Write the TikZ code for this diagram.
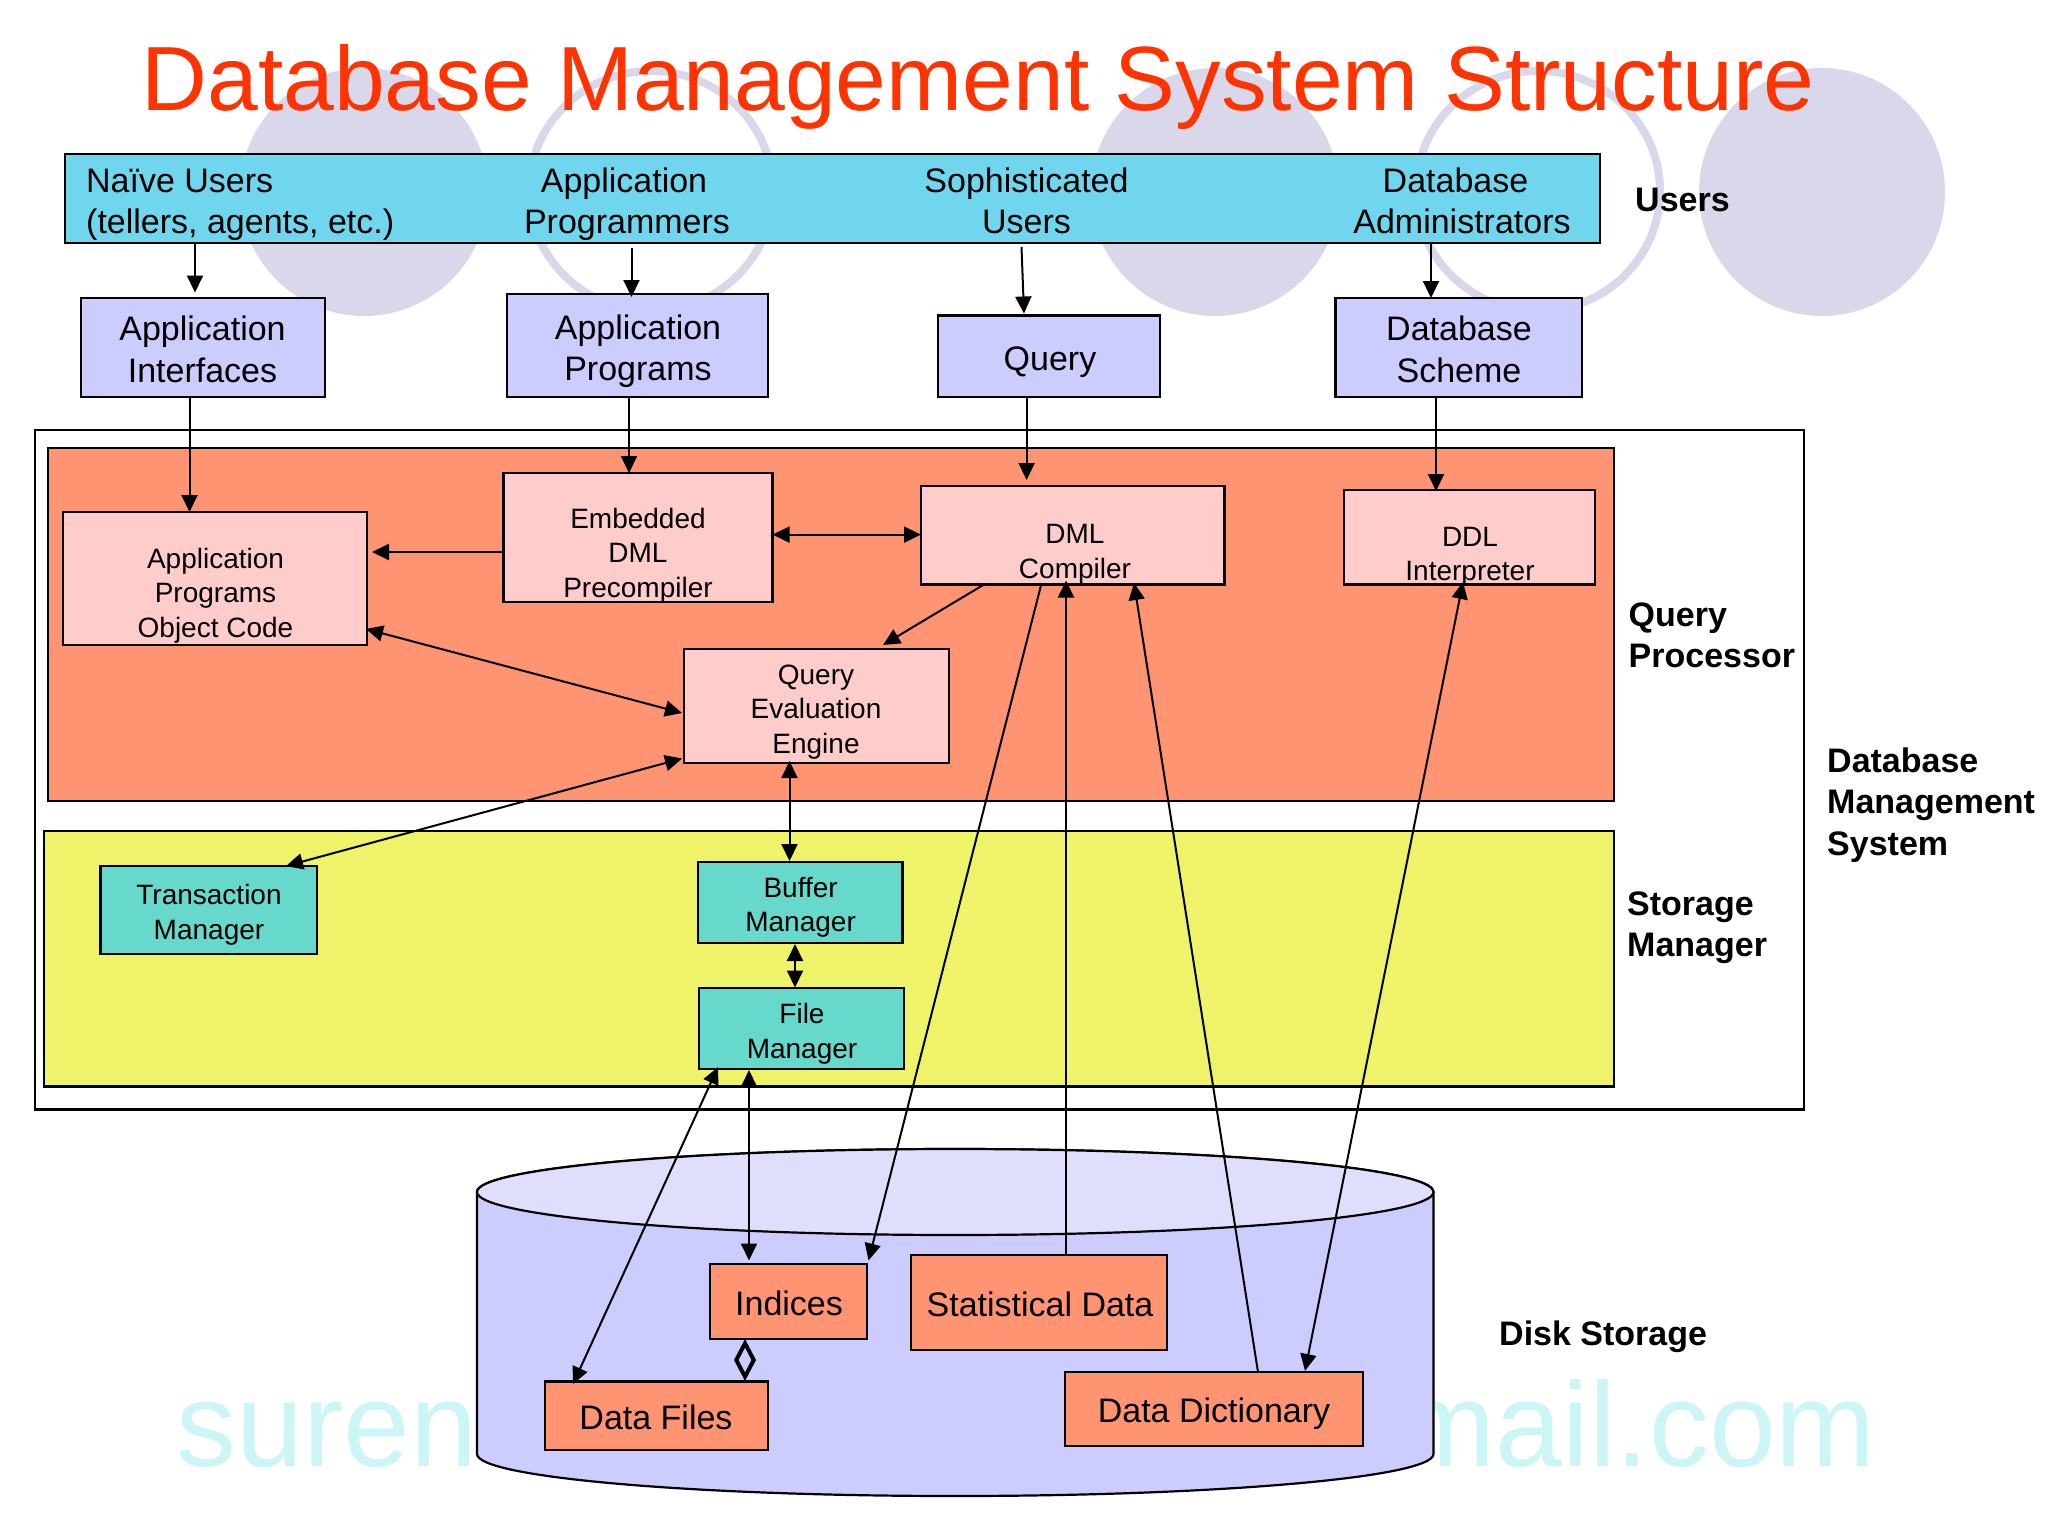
\documentclass[tikz,border=0pt]{standalone}
\usepackage{fontspec}
\setmainfont{Liberation Sans}
\usetikzlibrary{arrows.meta}
\definecolor{titlered}{HTML}{FF3300}
\definecolor{ringc}{HTML}{D9D8EA}
\definecolor{barc}{HTML}{70D6EE}
\definecolor{lav}{HTML}{CCCCFF}
\definecolor{lavtop}{HTML}{DFDFFD}
\definecolor{qpc}{HTML}{FF9473}
\definecolor{pinkc}{HTML}{FFCCCC}
\definecolor{smc}{HTML}{EEF36A}
\definecolor{tealc}{HTML}{66D9CC}
\definecolor{wmark}{HTML}{CCF5F5}
\tikzset{
  x=1pt,y=-1pt,
  boxbase/.style={rectangle,draw=black,line width=2.1pt,inner sep=0pt,outer sep=0pt},
  barbox/.style={boxbase,fill=barc},
  lavbox/.style={boxbase,fill=lav},
  region/.style={boxbase,fill=qpc},
  storeregion/.style={boxbase,fill=smc},
  outerbox/.style={boxbase},
  pinkbox/.style={boxbase,fill=pinkc},
  tealbox/.style={boxbase,fill=tealc},
  orangebox/.style={boxbase,fill=qpc},
  big/.style={font=\fontsize{34}{41.5}\selectfont,align=center,inner sep=0pt,yshift=-3.5pt},
  small/.style={font=\fontsize{28}{34.5}\selectfont,align=center,inner sep=0pt,yshift=-3pt},
  side/.style={font=\fontsize{34}{41.5}\selectfont\bfseries,align=left,anchor=west,inner sep=0pt,yshift=-3.5pt},
  wm/.style={font=\fontsize{120}{130}\selectfont,text=wmark,inner sep=0pt,anchor=base},
  link/.style={line width=2pt,-{Triangle[length=17pt,width=16pt]}},
  dlink/.style={line width=2pt,{Triangle[length=17pt,width=16pt]}-{Triangle[length=17pt,width=16pt]}},
  ring/.style={draw=ringc,line width=8pt},
}
\newcommand\bx[6]{\node[#1,minimum width={#4-#2},minimum height={#5-#3}] (#6) at ({(#2+#4)/2},{(#3+#5)/2}) {};}
\begin{document}
\begin{tikzpicture}
\useasboundingbox (0,0) rectangle (2048,1536);
% background circles
\fill[ringc] (364,192) ellipse [x radius=124,y radius=124];
\draw[ring] (651,191) ellipse [x radius=122,y radius=120];
\fill[ringc] (1215,192) ellipse [x radius=124,y radius=124];
\draw[ring] (1538,191) ellipse [x radius=122,y radius=120];
\fill[ringc] (1822,192) ellipse [x radius=123,y radius=124];
% title
\node[font=\fontsize{91.2}{100}\selectfont,text=titlered,anchor=base,inner sep=0pt] (title) at (978,111) {Database Management System Structure};
% users row
\bx{barbox}{65}{154}{1600}{243}{users}
\node[big,align=left,anchor=west] (naive) at (86,201) {\strut Naïve Users\\\strut (tellers, agents, etc.)};
\node[big] (progs) at (627,201) {\strut Application\hspace*{6pt}\\\strut Programmers};
\node[big] (soph) at (1026.5,201) {\strut Sophisticated\\\strut Users};
\node[big] (admins) at (1462,201) {\strut Database\hspace*{13pt}\\\strut Administrators};
\node[side] (usersL) at (1635,200) {\strut Users};
% tools row
\bx{lavbox}{81}{298}{325}{397}{ai}
\node[big] (aiT) at (202.5,349.5) {\strut Application\\\strut Interfaces};
\bx{lavbox}{507}{294}{768}{397}{ap}
\node[big] (apT) at (638,348) {\strut Application\\\strut Programs};
\bx{lavbox}{938}{315.5}{1160}{397}{query}
\node[big] (queryT) at (1050,359) {\strut Query};
\bx{lavbox}{1335.5}{298}{1582}{397}{ds}
\node[big] (dsT) at (1459,349.5) {\strut Database\\\strut Scheme};
% DBMS frame and regions
\bx{outerbox}{35}{430}{1804}{1109.5}{dbms}
\bx{region}{48}{448}{1614}{801}{qp}
\bx{storeregion}{44}{831}{1614}{1086.5}{sm}
\node[side] (qpL) at (1628.5,635) {\strut Query\\\strut Processor};
\node[side] (smL) at (1627,924) {\strut Storage\\\strut Manager};
\node[side] (dbmsL) at (1827,802) {\strut Database\\Management\\\strut System};
% query processor boxes
\bx{pinkbox}{63}{512}{367}{645}{apoc}
\node[small] (apocT) at (215.5,593) {\strut Application\\Programs\\\strut Object Code};
\bx{pinkbox}{503.5}{473}{772.5}{602}{emb}
\node[small] (embT) at (638,553) {\strut Embedded\\DML\\\strut Precompiler};
\bx{pinkbox}{921}{486}{1224.5}{584.5}{dml}
\node[small] (dmlT) at (1075,551) {\strut DML\\\strut Compiler};
\bx{pinkbox}{1344}{490}{1595}{584.5}{ddl}
\node[small] (ddlT) at (1470,553.7) {\strut DDL\\\strut Interpreter};
\bx{pinkbox}{684}{649}{949}{763}{qee}
\node[small] (qeeT) at (816,709) {\strut Query\\Evaluation\\\strut Engine};
% storage manager boxes
\bx{tealbox}{100.5}{866}{317}{954}{tm}
\node[small] (tmT) at (209,912) {\strut Transaction\\\strut Manager};
\bx{tealbox}{698}{862}{902.5}{943}{bm}
\node[small] (bmT) at (800.6,904.5) {\strut Buffer\\\strut Manager};
\bx{tealbox}{699}{988}{904}{1069}{fm}
\node[small] (fmT) at (802,1031) {\strut File\\\strut Manager};
% watermark (behind the disk)
\node[wm] (wmA) at (327,1466) {suren};
\node[wm,anchor=base east] (wmB) at (1876,1466) {mail.com};
% disk
\fill[lav,draw=black,line width=2.2pt] (477,1192) -- (477,1454) arc [start angle=180,end angle=0,x radius=478.25,y radius=42] -- (1433.5,1192) arc [start angle=0,end angle=-180,x radius=478.25,y radius=43] -- cycle;
\fill[lavtop,draw=black,line width=2.2pt] (955.25,1192) ellipse [x radius=478.25,y radius=43];
\node[side] (diskL) at (1499,1334) {\strut Disk Storage};
\bx{orangebox}{710}{1264}{867}{1339}{indices}
\node[big] (indT) at (789,1303.6) {\strut Indices};
\bx{orangebox}{911}{1255}{1167}{1350}{stat}
\node[big] (statT) at (1040,1304.5) {\strut Statistical Data};
\bx{orangebox}{545}{1381.5}{768}{1450}{df}
\node[big] (dfT) at (656,1418) {\strut Data Files};
\bx{orangebox}{1065}{1372}{1363}{1446}{dd}
\node[big] (ddT) at (1214,1411) {\strut Data Dictionary};
% connectors
\draw[link] ([shift={(130,0)}]users.south west) -- ([shift={(114,-5.5)}]ai.north west);
\draw[link] ([shift={(566.5,5)}]users.south west) -- ([shift={(124.5,3)}]ap.north west);
\draw[link] ([shift={(956.5,4)}]users.south west) -- ([shift={(86,-2)}]query.north west);
\draw[link] ([shift={(1366,0)}]users.south west) -- ([shift={(95.5,0)}]ds.north west);
\draw[link] ([shift={(108.5,0)}]ai.south west) -- ([shift={(126.5,0)}]apoc.north west);
\draw[link] ([shift={(122,0)}]ap.south west) -- ([shift={(125.5,0)}]emb.north west);
\draw[link] ([shift={(88.6,0)}]query.south west) -- ([shift={(105.6,-6)}]dml.north west);
\draw[link] ([shift={(100.5,0)}]ds.south west) -- ([shift={(92,1)}]ddl.north west);
\draw[link] ([shift={(0,79)}]emb.north west) -- ([shift={(5,-93)}]apoc.south east);
\draw[dlink] ([shift={(0,61.6)}]emb.north east) -- ([shift={(0,48.6)}]dml.north west);
\draw[link] ([shift={(63,0)}]dml.south west) -- ([shift={(199,-4)}]qee.north west);
\draw[dlink] ([shift={(-1,-16)}]apoc.south east) -- ([shift={(-2,64)}]qee.north west);
\draw[dlink] ([shift={(-2,-4.5)}]qee.south west) -- ([shift={(185.5,0)}]tm.north west);
\draw[dlink] ([shift={(105.5,-2)}]qee.south west) -- ([shift={(91.5,-1)}]bm.north west);
\draw[dlink] ([shift={(97,1)}]bm.south west) -- ([shift={(96,-0.5)}]fm.north west);
\draw[dlink] ([shift={(19,-2)}]fm.south west) -- ([shift={(28,2.5)}]df.north west);
\draw[dlink] ([shift={(50,1)}]fm.south west) -- ([shift={(39,-3.5)}]indices.north west);
\draw[link] ([shift={(120.6,-1.5)}]dml.south west) -- ([shift={(158.5,-3.5)}]indices.north west);
\draw[link] ([shift={(155,0)}]stat.north west) -- ([shift={(145,-4)}]dml.south west);
\draw[link] ([shift={(193,0)}]dd.north west) -- ([shift={(213,-1.5)}]dml.south west);
\draw[dlink] ([shift={(119,-2.5)}]ddl.south west) -- ([shift={(240,-1)}]dd.north west);
\draw[line width=2pt,-{Diamond[open,length=42pt,width=22pt,line width=4pt]}] ([shift={(200,0)}]df.north west) -- ([shift={(35,0)}]indices.south west);
\end{tikzpicture}
\end{document}
